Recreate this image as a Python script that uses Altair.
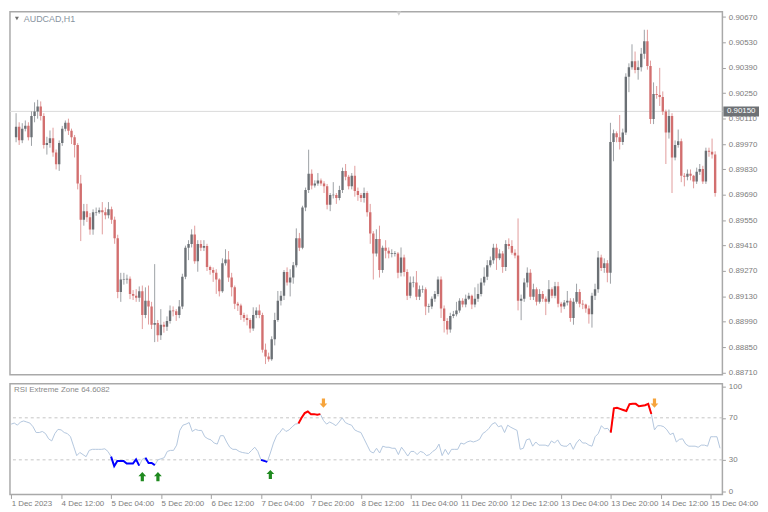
import altair as alt
import pandas as pd

# ---------------- data ----------------
symbol_title = "AUDCAD,H1"
rsi_title = "RSI Extreme Zone 64.6082"
first_open = 0.90007
close = [0.90066,0.89991,0.90055,0.90071,0.90007,0.90124,0.90150,0.90177,0.90124,0.89965,
         0.89976,0.90002,0.89923,0.89859,0.89976,0.90055,0.90087,0.90044,0.90007,0.89965,
         0.89753,0.89552,0.89599,0.89567,0.89499,0.89594,0.89594,0.89605,0.89594,0.89578,
         0.89610,0.89552,0.89451,0.89154,0.89223,0.89223,0.89228,0.89143,0.89133,0.89122,
         0.89159,0.89027,0.89106,0.89075,0.88974,0.88984,0.88916,0.88974,0.88963,0.88995,
         0.89053,0.89048,0.89027,0.89075,0.89239,0.89398,0.89419,0.89472,0.89324,0.89419,
         0.89398,0.89408,0.89292,0.89276,0.89260,0.89223,0.89159,0.89313,0.89334,0.89234,
         0.89181,0.89090,0.89080,0.89027,0.89011,0.89000,0.88953,0.89027,0.89053,0.89027,
         0.88836,0.88799,0.88783,0.88894,0.89000,0.89106,0.89133,0.89265,0.89207,0.89234,
         0.89302,0.89451,0.89398,0.89620,0.89716,0.89806,0.89742,0.89753,0.89769,0.89753,
         0.89737,0.89636,0.89689,0.89689,0.89673,0.89716,0.89822,0.89790,0.89737,0.89795,
         0.89711,0.89689,0.89673,0.89700,0.89594,0.89477,0.89366,0.89446,0.89276,0.89398,
         0.89382,0.89366,0.89366,0.89366,0.89260,0.89345,0.89265,0.89133,0.89207,0.89207,
         0.89128,0.89170,0.89170,0.89075,0.89075,0.89117,0.89143,0.89223,0.89064,0.88995,
         0.88947,0.89022,0.89032,0.89053,0.89106,0.89085,0.89117,0.89133,0.89085,0.89117,
         0.89143,0.89207,0.89239,0.89302,0.89329,0.89398,0.89340,0.89366,0.89292,0.89419,
         0.89408,0.89371,0.89355,0.89106,0.89117,0.89207,0.89260,0.89128,0.89170,0.89101,
         0.89143,0.89117,0.89101,0.89170,0.89133,0.89186,0.89090,0.89075,0.89096,0.89106,
         0.89011,0.89101,0.89154,0.89090,0.89085,0.89064,0.89032,0.89133,0.89170,0.89345,
         0.89287,0.89313,0.89260,0.89981,0.90029,0.90007,0.89981,0.90034,0.90341,0.90394,
         0.90426,0.90378,0.90394,0.90468,0.90537,0.90400,0.90108,0.90246,0.90241,0.90230,
         0.90150,0.90034,0.90124,0.89896,0.89965,0.89986,0.89795,0.89790,0.89806,0.89795,
         0.89764,0.89817,0.89832,0.89764,0.89933,0.89928,0.89912,0.89700]
high = [0.90140,0.90090,0.90085,0.90100,0.90090,0.90150,0.90200,0.90214,0.90205,0.90140,
        0.90010,0.90045,0.90060,0.89940,0.89990,0.90070,0.90100,0.90110,0.90055,0.90020,
        0.89975,0.89800,0.89640,0.89640,0.89590,0.89610,0.89620,0.89620,0.89650,0.89620,
        0.89650,0.89625,0.89570,0.89470,0.89260,0.89260,0.89250,0.89240,0.89165,0.89170,
        0.89185,0.89190,0.89180,0.89190,0.89100,0.89308,0.89000,0.89060,0.88990,0.89020,
        0.89080,0.89075,0.89060,0.89110,0.89255,0.89410,0.89440,0.89500,0.89520,0.89440,
        0.89440,0.89440,0.89420,0.89300,0.89290,0.89280,0.89230,0.89340,0.89390,0.89380,
        0.89260,0.89190,0.89100,0.89090,0.89040,0.89030,0.89010,0.89070,0.89070,0.89085,
        0.89040,0.88870,0.88820,0.88910,0.89040,0.89160,0.89160,0.89275,0.89290,0.89280,
        0.89320,0.89505,0.89480,0.89630,0.89730,0.89939,0.89830,0.89770,0.89810,0.89780,
        0.89765,0.89750,0.89700,0.89760,0.89700,0.89740,0.89840,0.89860,0.89800,0.89810,
        0.89850,0.89730,0.89700,0.89730,0.89710,0.89640,0.89490,0.89500,0.89520,0.89410,
        0.89440,0.89400,0.89390,0.89380,0.89375,0.89400,0.89360,0.89280,0.89240,0.89240,
        0.89270,0.89190,0.89190,0.89180,0.89090,0.89130,0.89160,0.89240,0.89240,0.89080,
        0.89010,0.89040,0.89050,0.89100,0.89120,0.89120,0.89140,0.89150,0.89140,0.89180,
        0.89200,0.89230,0.89290,0.89330,0.89350,0.89420,0.89420,0.89390,0.89380,0.89440,
        0.89450,0.89440,0.89390,0.89560,0.89140,0.89230,0.89290,0.89280,0.89200,0.89180,
        0.89170,0.89160,0.89130,0.89220,0.89180,0.89210,0.89210,0.89100,0.89110,0.89160,
        0.89120,0.89120,0.89200,0.89170,0.89110,0.89090,0.89080,0.89150,0.89200,0.89380,
        0.89360,0.89340,0.89330,0.90087,0.90050,0.90040,0.90130,0.90055,0.90360,0.90415,
        0.90520,0.90480,0.90430,0.90500,0.90600,0.90600,0.90430,0.90310,0.90290,0.90390,
        0.90260,0.90160,0.90160,0.90140,0.89990,0.90050,0.90000,0.89810,0.89830,0.89830,
        0.89800,0.89840,0.89860,0.89850,0.89950,0.89950,0.90000,0.89930]
low = [0.89980,0.89965,0.89975,0.90040,0.89990,0.89960,0.90090,0.90110,0.90100,0.89945,
       0.89912,0.89950,0.89900,0.89830,0.89822,0.89960,0.90040,0.90020,0.89970,0.89896,
       0.89720,0.89435,0.89520,0.89540,0.89470,0.89470,0.89575,0.89585,0.89472,0.89555,
       0.89560,0.89530,0.89420,0.89120,0.89100,0.89195,0.89200,0.89115,0.89110,0.89100,
       0.89100,0.88950,0.89010,0.88975,0.88950,0.88878,0.88880,0.88890,0.88930,0.88940,
       0.88980,0.89020,0.88995,0.89010,0.89060,0.89225,0.89330,0.89400,0.89310,0.89266,
       0.89380,0.89380,0.89270,0.89250,0.89210,0.89144,0.89130,0.89150,0.89300,0.89210,
       0.89130,0.89060,0.89050,0.89000,0.88990,0.88970,0.88930,0.88940,0.89010,0.89010,
       0.88820,0.88757,0.88770,0.88775,0.88860,0.88990,0.89080,0.89110,0.89190,0.89130,
       0.89200,0.89290,0.89380,0.89390,0.89600,0.89700,0.89720,0.89730,0.89740,0.89740,
       0.89700,0.89610,0.89600,0.89670,0.89640,0.89660,0.89700,0.89770,0.89720,0.89720,
       0.89680,0.89657,0.89650,0.89647,0.89570,0.89420,0.89223,0.89350,0.89234,0.89260,
       0.89340,0.89340,0.89345,0.89350,0.89230,0.89240,0.89240,0.89110,0.89120,0.89180,
       0.89110,0.89110,0.89150,0.89027,0.89040,0.89060,0.89100,0.89130,0.89011,0.88931,
       0.88920,0.88930,0.89010,0.89020,0.89040,0.89070,0.89070,0.89110,0.89060,0.89070,
       0.89100,0.89130,0.89190,0.89220,0.89290,0.89310,0.89276,0.89330,0.89260,0.89270,
       0.89390,0.89360,0.89340,0.89053,0.88999,0.89100,0.89180,0.89110,0.89110,0.89080,
       0.89090,0.89100,0.89027,0.89090,0.89120,0.89120,0.89070,0.89040,0.89060,0.89080,
       0.88990,0.88974,0.89090,0.89070,0.89060,0.89040,0.88980,0.88958,0.89110,0.89150,
       0.89270,0.89260,0.89208,0.89200,0.89875,0.89980,0.89940,0.89965,0.90020,0.90256,
       0.90380,0.90360,0.90325,0.90370,0.90440,0.90380,0.90081,0.90080,0.90220,0.90180,
       0.90130,0.89860,0.90000,0.89700,0.89880,0.89950,0.89760,0.89737,0.89770,0.89770,
       0.89726,0.89750,0.89800,0.89750,0.89750,0.89900,0.89890,0.89680]
rsi = [64,65,63,66,67,66,65,61.5,56,56,57,55,50,48,55,59,58.5,56,55,52,
       43,34,37,35,33,39,40,40,40,40,40.5,38,33,24,29,29,29,26.5,26.5,26.5,
       30.5,24.5,30.5,32,27,27,25,30,31,32,38,39,39,44,58,63,64,65.5,57,59,
       58,58,52,50,49,46,45,53,53,47,42,40,40,38,37,36.5,36,39,42,38,
       30,29,28,36.5,46,53,56,60,57,58.5,61.5,64,64.5,70,74.5,76,73.5,73.5,73,73.5,
       67.5,64,66,64.5,62.5,66,70,65.5,64,63,58.5,57,56,50,44,38,36.5,41,36.5,43,
       42,42,41,41,35,42,38,33.6,38,38,35,38,37,34,35,38,40,45,34,40,
       35,40,40,40,46,45,47,48,47,48,49.5,55,57,60,64,65.5,61.5,62.5,56,63,
       61,59.5,58,40,41,49,50,43,47,44,44,44,43,48,46,49,44,43,43,46,
       40,46,49.5,46,46,44,43,52,55,62.5,59.5,60,56,79,79.5,78.5,77.5,76.5,83,83.3,
       83.3,81,81.5,82,83.3,73.6,58.5,62.5,62.5,61.5,58.5,54,55.5,47,49.5,50,45,43,43,43,
       42,44,44,43,52,52,52,41]
low_zones = [(32, 41), (43, 46), (80, 82)]
high_zones = [(92, 99), (192, 205)]
buy_arrow_bars = [42, 47, 83]
buy_arrow_levels = [14, 14, 16]
sell_arrow_bars = [100, 206]
sell_arrow_levels = [84, 84]
rsi_levels = [30, 70]
price_line = 0.90150
price_ticks = [0.90670, 0.90530, 0.90390, 0.90250, 0.90110, 0.89970, 0.89830, 0.89690,
               0.89550, 0.89410, 0.89270, 0.89130, 0.88990, 0.88850, 0.88710]
rsi_ticks = [0, 30, 70, 100]
time_tick_bars = [0, 16, 32, 48, 64, 80, 96, 112, 128, 144, 160, 176, 192, 208, 224]
time_tick_labels = ["1 Dec 2023", "4 Dec 12:00", "5 Dec 04:00", "5 Dec 20:00", "6 Dec 12:00",
                    "7 Dec 04:00", "7 Dec 20:00", "8 Dec 12:00", "11 Dec 04:00", "11 Dec 20:00",
                    "12 Dec 12:00", "13 Dec 04:00", "13 Dec 20:00", "14 Dec 12:00", "15 Dec 04:00"]

# ---------------- style ----------------
UP_BODY, DN_BODY = "#6b7075", "#d26f6f"
UP_WICK, DN_WICK = "#9da1a5", "#e19c9c"
LOW_ZONE, HIGH_ZONE = "#0000ff", "#ff0000"

# ---------------- tables ----------------
n = len(close)
opens = [first_open] + close[:-1]
cdf = pd.DataFrame({"bar": list(range(n)), "open": opens, "close": close, "high": high, "low": low})
is_up = cdf["close"] >= cdf["open"]
cdf["body_col"] = [UP_BODY if u else DN_BODY for u in is_up]
cdf["wick_col"] = [UP_WICK if u else DN_WICK for u in is_up]
cdf["top"] = cdf[["open", "close"]].max(axis=1)
cdf["bot"] = cdf[["open", "close"]].min(axis=1)
mid = (cdf["top"] + cdf["bot"]) / 2
flat = (cdf["top"] - cdf["bot"]) < 0.00003
cdf.loc[flat, "top"] = mid[flat] + 0.000015
cdf.loc[flat, "bot"] = mid[flat] - 0.000015

rdf = pd.DataFrame({"bar": list(range(n)), "v": rsi})
seg_rows = []
for k, (s, e) in enumerate(low_zones):
    for b in range(s, e + 1):
        seg_rows.append({"bar": b, "v": rsi[b], "seg": f"L{k}", "col": LOW_ZONE})
for k, (s, e) in enumerate(high_zones):
    for b in range(s, e + 1):
        seg_rows.append({"bar": b, "v": rsi[b], "seg": f"H{k}", "col": HIGH_ZONE})
sdf = pd.DataFrame(seg_rows)
lvl_df = pd.DataFrame({"v": rsi_levels})
buy_df = pd.DataFrame({"bar": buy_arrow_bars, "v": buy_arrow_levels})
sell_df = pd.DataFrame({"bar": sell_arrow_bars, "v": sell_arrow_levels})
pl_df = pd.DataFrame({"p": [price_line], "label": [f"{price_line:.5f}"]})

# ---------------- layout ----------------
W = 720
H1 = 367
H2 = 112
FONT = "Liberation Sans"
LABEL = "#7c7c7c"
xs = alt.Scale(domain=[-0.375, 227.75], nice=False, zero=False)
ys_price = alt.Scale(domain=[0.88698, 0.90700], nice=False, zero=False)
ys_rsi = alt.Scale(domain=[-3, 102.5], nice=False, zero=False)

price_axis = alt.Axis(orient="right", values=price_ticks, format=".5f", title=None, grid=False,
                      domain=False, tickSize=3, labelPadding=3, labelFont=FONT, labelFontSize=8,
                      labelColor=LABEL, tickColor="#a0a0a0", labelFlush=False, labelOverlap=False)
rsi_axis = alt.Axis(orient="right", values=rsi_ticks, title=None, grid=False, domain=False,
                    tickSize=3, labelPadding=3, labelFont=FONT, labelFontSize=8,
                    labelColor=LABEL, tickColor="#a0a0a0", labelFlush=False, labelOverlap=False)
lab_js = "[" + ",".join("'" + s + "'" for s in time_tick_labels) + "]"
time_axis = alt.Axis(values=time_tick_bars, labelExpr=lab_js + "[round(datum.value/16)]",
                     title=None, grid=False, domain=False, tickSize=4, labelPadding=1,
                     labelAlign="left", labelFont=FONT, labelFontSize=8, labelColor=LABEL,
                     tickColor="#a0a0a0", labelFlush=False, labelOverlap=False)

X_main = alt.X("bar:Q", scale=xs, axis=None)

base = alt.Chart(cdf)
wicks = base.mark_rule(strokeWidth=1, clip=True).encode(
    x=X_main, y=alt.Y("low:Q", scale=ys_price, axis=price_axis), y2="high:Q",
    color=alt.Color("wick_col:N", scale=None))
bodies = base.mark_bar(size=2.4, clip=True).encode(
    x=X_main, y=alt.Y("bot:Q", scale=ys_price, axis=price_axis), y2="top:Q",
    color=alt.Color("body_col:N", scale=None))
pline = alt.Chart(pl_df).mark_rule(color="#dadada", strokeWidth=1).encode(
    y=alt.Y("p:Q", scale=ys_price, axis=price_axis))
box_path = "M-1,-0.28H1V0.28H-1Z"
pbox = alt.Chart(pl_df).mark_point(shape=box_path, size=1296, filled=True, opacity=1,
                                   color="#6d7175", clip=False).encode(
    x=alt.value(W + 19), y=alt.Y("p:Q", scale=ys_price, axis=price_axis))
ptext = alt.Chart(pl_df).mark_text(color="white", font=FONT, fontSize=8, align="center",
                                   baseline="middle", clip=False).encode(
    x=alt.value(W + 19), y=alt.Y("p:Q", scale=ys_price, axis=price_axis), text="label:N")
ttl_df = pd.DataFrame({"t": [symbol_title]})
tri = alt.Chart(ttl_df).mark_point(shape="triangle-down", size=16, filled=True, opacity=1,
                                   color="#707070").encode(x=alt.value(7), y=alt.value(7))
ttl = alt.Chart(ttl_df).mark_text(align="left", baseline="middle", font=FONT, fontSize=9,
                                  color="#8793a0").encode(x=alt.value(14), y=alt.value(7), text="t:N")
tri2 = alt.Chart(ttl_df).mark_point(shape="triangle-down", size=22, filled=True, opacity=1,
                                    color="#d0d0d0").encode(x=alt.value(393), y=alt.value(2))

main = alt.layer(pline, wicks, bodies, pbox, ptext, tri, ttl, tri2).properties(width=W, height=H1)

X_rsi = alt.X("bar:Q", scale=xs, axis=time_axis)
Y_rsi = alt.Y("v:Q", scale=ys_rsi, axis=rsi_axis)
levels = alt.Chart(lvl_df).mark_rule(color="#c4c4c4", strokeDash=[3, 3], strokeWidth=1).encode(y=Y_rsi)
rline = alt.Chart(rdf).mark_line(color="#b3c6de", strokeWidth=1, clip=True).encode(x=X_rsi, y=Y_rsi)
zones = alt.Chart(sdf).mark_line(strokeWidth=2, clip=True).encode(
    x=X_rsi, y=Y_rsi, detail="seg:N", color=alt.Color("col:N", scale=None))
up_path = "M0,-1L0.85,-0.1L0.35,-0.1L0.35,1L-0.35,1L-0.35,-0.1L-0.85,-0.1Z"
dn_path = "M0,1L0.85,0.1L0.35,0.1L0.35,-1L-0.35,-1L-0.35,0.1L-0.85,0.1Z"
buy = alt.Chart(buy_df).mark_point(shape=up_path, size=85, filled=True, opacity=1,
                                   color="#1f8a1f").encode(x=X_rsi, y=Y_rsi)
sell = alt.Chart(sell_df).mark_point(shape=dn_path, size=85, filled=True, opacity=1,
                                     color="#f6a43c").encode(x=X_rsi, y=Y_rsi)
rt_df = pd.DataFrame({"t": [rsi_title]})
rttl = alt.Chart(rt_df).mark_text(align="left", baseline="middle", font=FONT, fontSize=8,
                                  color="#8a8a8a").encode(x=alt.value(4), y=alt.value(6), text="t:N")
rsi_panel = alt.layer(levels, rline, zones, buy, sell, rttl).properties(width=W, height=H2)

chart = alt.vconcat(main, rsi_panel, spacing=3).properties(
    padding={"left": 0, "top": 0, "right": 0, "bottom": 0},
    background="white",
).configure_view(stroke="#a9a9a9", strokeWidth=1.5)

chart.save("out.html", embed_options={"renderer": "svg", "actions": False})
